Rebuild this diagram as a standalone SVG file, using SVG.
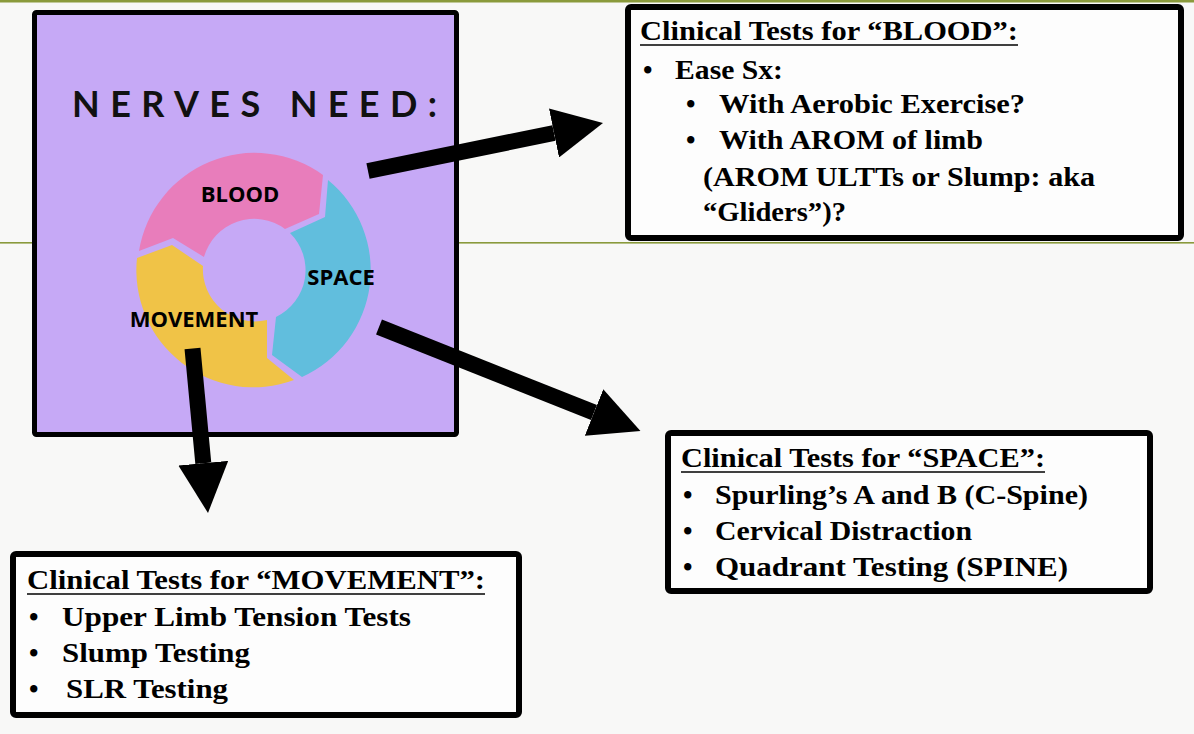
<svg xmlns="http://www.w3.org/2000/svg" width="1194" height="734" viewBox="0 0 1194 734">
  <defs>
    <style>
      .box { fill: #fdfdfd; stroke: #000; stroke-width: 6; }
      .t { font-family: "Liberation Serif", "Times New Roman", serif; font-weight: bold; font-size: 27px; fill: #000; }
      .lbl { font-family: "Open Sans", "Liberation Sans", sans-serif; font-weight: bold; font-size: 22px; fill: #000; text-anchor: middle; }
      .ul { stroke: #000; stroke-width: 1.6; }
      .arrow { stroke: #000; stroke-width: 16; fill: none; marker-end: url(#head); }
    </style>
    <marker id="head" viewBox="0 0 50 50" markerWidth="50" markerHeight="50" markerUnits="userSpaceOnUse" refX="0" refY="25" orient="auto">
      <path d="M0,0 L50,25 L0,50 Z" fill="#000"/>
    </marker>
  </defs>

  <!-- background -->
  <rect x="0" y="0" width="1194" height="734" fill="#f8f8f7"/>
  <rect x="0" y="0" width="1194" height="2.5" fill="#8a9a3c"/>
  <rect x="0" y="242" width="1194" height="1.6" fill="#8a9a3c"/>

  <!-- main purple node -->
  <g id="nerves-need">
    <rect x="34.5" y="12.5" width="422" height="422" rx="2" fill="#c6a9f6" stroke="#000" stroke-width="5"/>
    <text x="72" y="117" font-family="Lato, 'Open Sans', sans-serif" font-size="36" font-weight="bold" textLength="365" lengthAdjust="spacing" fill="#111">NERVES NEED:</text>
    <path d="M139,251 A117,117 0 0 1 323,175 L319,214 L285,229 A52,52 0 0 0 204,257 L173,238 Z" fill="#e87dbb"/>
    <path d="M328,180 A117,117 0 0 1 302,377 L272,355 L276,317 A52,52 0 0 0 290,233 L325,217 Z" fill="#61bedd"/>
    <path d="M294,380 A117,117 0 0 1 137,258 L172,245 L203,266 A52,52 0 0 0 267,320 L267,358 Z" fill="#f0c347"/>
    <text class="lbl" x="240" y="202">BLOOD</text>
    <text class="lbl" x="341" y="285">SPACE</text>
    <text class="lbl" x="194" y="327">MOVEMENT</text>
  </g>

  <!-- BLOOD tests -->
  <g id="blood-tests">
    <rect class="box" x="628" y="7" width="553" height="231" rx="3"/>
    <text class="t" x="640" y="40" textLength="378" lengthAdjust="spacingAndGlyphs">Clinical Tests for “BLOOD”:</text>
    <line class="ul" x1="640" y1="45" x2="1018" y2="45"/>
    <text class="t" x="643" y="79">•</text>
    <text class="t" x="675" y="79" textLength="108" lengthAdjust="spacingAndGlyphs">Ease Sx:</text>
    <text class="t" x="686" y="113">•</text>
    <text class="t" x="719" y="113" textLength="306" lengthAdjust="spacingAndGlyphs">With Aerobic Exercise?</text>
    <text class="t" x="686" y="149">•</text>
    <text class="t" x="719" y="149" textLength="264" lengthAdjust="spacingAndGlyphs">With AROM of limb</text>
    <text class="t" x="703" y="186" textLength="392" lengthAdjust="spacingAndGlyphs">(AROM ULTTs or Slump: aka</text>
    <text class="t" x="703" y="221" textLength="143" lengthAdjust="spacingAndGlyphs">“Gliders”)?</text>
  </g>

  <!-- SPACE tests -->
  <g id="space-tests">
    <rect class="box" x="668" y="433" width="482" height="158" rx="3"/>
    <text class="t" x="681" y="467" textLength="364" lengthAdjust="spacingAndGlyphs">Clinical Tests for “SPACE”:</text>
    <line class="ul" x1="681" y1="472" x2="1045" y2="472"/>
    <text class="t" x="683" y="504">•</text>
    <text class="t" x="715" y="504" textLength="373" lengthAdjust="spacingAndGlyphs">Spurling’s A and B (C-Spine)</text>
    <text class="t" x="683" y="540">•</text>
    <text class="t" x="715" y="540" textLength="257" lengthAdjust="spacingAndGlyphs">Cervical Distraction</text>
    <text class="t" x="683" y="576">•</text>
    <text class="t" x="715" y="576" textLength="353" lengthAdjust="spacingAndGlyphs">Quadrant Testing (SPINE)</text>
  </g>

  <!-- MOVEMENT tests -->
  <g id="movement-tests">
    <rect class="box" x="13" y="554" width="506" height="161" rx="3"/>
    <text class="t" x="27" y="589" textLength="458" lengthAdjust="spacingAndGlyphs">Clinical Tests for “MOVEMENT”:</text>
    <line class="ul" x1="27" y1="594" x2="485" y2="594"/>
    <text class="t" x="29" y="626">•</text>
    <text class="t" x="62" y="626" textLength="349" lengthAdjust="spacingAndGlyphs">Upper Limb Tension Tests</text>
    <text class="t" x="29" y="662">•</text>
    <text class="t" x="62" y="662" textLength="188" lengthAdjust="spacingAndGlyphs">Slump Testing</text>
    <text class="t" x="29" y="698">•</text>
    <text class="t" x="66" y="698" textLength="162" lengthAdjust="spacingAndGlyphs">SLR Testing</text>
  </g>

  <!-- connectors -->
  <g id="connectors">
    <line class="arrow" x1="368" y1="171" x2="554" y2="133"/>
    <line class="arrow" x1="379" y1="327" x2="594" y2="412.5"/>
    <line class="arrow" x1="192.5" y1="348.5" x2="203.3" y2="463.2"/>
  </g>
</svg>
